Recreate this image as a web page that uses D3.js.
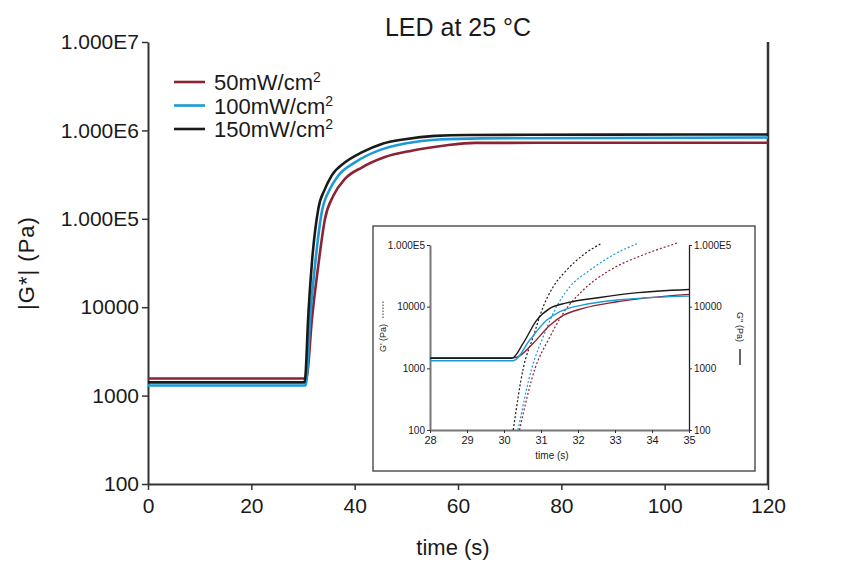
<!DOCTYPE html>
<html>
<head>
<meta charset="utf-8">
<script src="https://cdn.jsdelivr.net/npm/d3@7"></script>
<style>
  body { margin: 0; background: #fff; }
  svg { font-family: "Liberation Sans", Arial, sans-serif; }
</style>
</head>
<body>
<svg id="chart" width="860" height="578"></svg>
<script>
// ---- data ----
const seriesNames = ["50mW/cm", "100mW/cm", "150mW/cm"];
const seriesColors = ["#8c2334", "#1b9ad6", "#1a1a1a"];

// main chart |G*| vs time
const mainT50 = [0, 30.6, 30.85, 31.7, 32.96, 34.26, 35.87, 38.13, 41.36, 45.87, 51.04, 57.48, 63.3, 90, 120];
const mainG50 = [1560, 1560, 1800, 7000, 29500, 100000, 182000, 283000, 380000, 500000, 590000, 675000, 722000, 725000, 725000];
const mainT100 = [0, 30.5, 30.75, 31.35, 32.32, 33.62, 35.23, 36.83, 40.06, 44.57, 49.74, 56.19, 64.6, 90, 120];
const mainG100 = [1300, 1300, 1600, 7000, 29500, 118000, 218000, 308000, 435000, 590000, 710000, 790000, 812000, 822000, 830000];
const mainT150 = [0, 30.3, 30.5, 30.97, 31.68, 32.96, 34.26, 35.55, 38.13, 41.36, 45.23, 49.74, 55.55, 61.9, 90, 120];
const mainG150 = [1410, 1410, 1750, 7000, 29500, 129000, 218000, 308000, 435000, 563000, 703000, 796000, 868000, 888000, 895000, 900000];

// inset G'' (solid)
const inT50s = [28, 30.3, 30.79, 31.24, 31.6, 32.14, 33.05, 35];
const inG50s = [1490, 1490, 2560, 5000, 7200, 9400, 12000, 15800];
const inT100s = [28, 30.25, 30.7, 31.15, 31.51, 32.14, 33.05, 35];
const inG100s = [1330, 1330, 2900, 6000, 8300, 10700, 12800, 14800];
const inT150s = [28, 30.21, 30.52, 30.88, 31.24, 31.69, 32.59, 33.49, 35];
const inG150s = [1450, 1450, 2560, 6000, 9400, 11500, 14100, 16600, 19000];

// inset G' (dotted)
const inT50d = [30.42, 30.84, 31.2, 31.6, 32.14, 32.86, 33.76, 34.67];
const inG50d = [100, 1000, 2900, 7800, 18600, 39000, 69000, 107000];
const inT100d = [30.38, 30.75, 31.06, 31.42, 31.78, 32.32, 32.95, 33.63];
const inG100d = [100, 1000, 3250, 10000, 21000, 39000, 69000, 107000];
const inT150d = [30.25, 30.52, 30.79, 31.06, 31.33, 31.69, 32.14, 32.64];
const inG150d = [100, 1000, 3250, 10000, 21000, 39000, 69000, 107000];

const mainXTicks = [0, 20, 40, 60, 80, 100, 120];
const mainYTicks = [100, 1000, 10000, 1e5, 1e6, 1e7];
const mainYLabels = ["100", "1000", "10000", "1.000E5", "1.000E6", "1.000E7"];
const inXTicks = [28, 29, 30, 31, 32, 33, 34, 35];
const inYTicks = [100, 1000, 10000, 1e5];
const inYLabels = ["100", "1000", "10000", "1.000E5"];

const zip = (t, g) => t.map((v, i) => ({ t: v, g: g[i] }));
const mainSeries = [zip(mainT50, mainG50), zip(mainT100, mainG100), zip(mainT150, mainG150)];
const inSolid = [zip(inT50s, inG50s), zip(inT100s, inG100s), zip(inT150s, inG150s)];
const inDotted = [zip(inT50d, inG50d), zip(inT100d, inG100d), zip(inT150d, inG150d)];

const svg = d3.select("#chart");

// ---- main chart ----
const x = d3.scaleLinear().domain([0, 120]).range([148, 768]);
const y = d3.scaleLog().domain([100, 1e7]).range([484, 42]);

svg.append("text").attr("x", 458).attr("y", 36).attr("text-anchor", "middle")
  .attr("font-size", 25).attr("fill", "#1a1a1a").text("LED at 25 °C");

const gx = svg.append("g").attr("transform", "translate(0,484)")
  .call(d3.axisBottom(x).tickValues(mainXTicks).tickSize(6).tickSizeOuter(0).tickPadding(8));
const gy = svg.append("g").attr("transform", "translate(148,0)")
  .call(d3.axisLeft(y).tickValues(mainYTicks).tickFormat((d, i) => mainYLabels[i])
    .tickSize(6).tickSizeOuter(0).tickPadding(3));
[gx, gy].forEach(g => {
  g.select(".domain").attr("stroke", "#333").attr("stroke-width", 2);
  g.selectAll(".tick line").attr("stroke", "#333").attr("stroke-width", 1.5);
  g.selectAll(".tick text").attr("font-size", 21).attr("fill", "#1a1a1a")
    .attr("font-family", "Liberation Sans, Arial, sans-serif");
});
// right frame line
svg.append("line").attr("x1", x(120)).attr("x2", x(120)).attr("y1", y(1e7)).attr("y2", y(100))
  .attr("stroke", "#333").attr("stroke-width", 2.5);

svg.append("text").attr("x", 453).attr("y", 555).attr("text-anchor", "middle")
  .attr("font-size", 22).attr("fill", "#1a1a1a").text("time (s)");
svg.append("text").attr("transform", "translate(34,263) rotate(-90)").attr("text-anchor", "middle")
  .attr("font-size", 22).attr("fill", "#1a1a1a").attr("letter-spacing", 1).text("|G*| (Pa)");

const line = d3.line().x(d => x(d.t)).y(d => y(d.g)).curve(d3.curveMonotoneX);
mainSeries.forEach((s, i) => {
  svg.append("path").attr("d", line(s)).attr("fill", "none")
    .attr("stroke", seriesColors[i]).attr("stroke-width", 2.6);
});

// legend
const legend = svg.append("g");
seriesNames.forEach((name, i) => {
  const ly = 82 + i * 23.5;
  legend.append("line").attr("x1", 174).attr("x2", 205).attr("y1", ly).attr("y2", ly)
    .attr("stroke", seriesColors[i]).attr("stroke-width", 2.6);
  const t = legend.append("text").attr("x", 214).attr("y", ly + 8)
    .attr("font-size", 22).attr("fill", "#1a1a1a");
  t.append("tspan").text(name);
  t.append("tspan").attr("font-size", 14).attr("dy", -8).text("2");
});

// ---- inset ----
svg.append("rect").attr("x", 373).attr("y", 226).attr("width", 382).attr("height", 245)
  .attr("fill", "#fff").attr("stroke", "#555").attr("stroke-width", 1.5);

const ix = d3.scaleLinear().domain([28, 35]).range([430, 689]);
const iy = d3.scaleLog().domain([100, 1e5]).range([430, 245]);

const igx = svg.append("g").attr("transform", "translate(0,430)")
  .call(d3.axisBottom(ix).tickValues(inXTicks).tickFormat(d3.format("d"))
    .tickSize(3).tickSizeOuter(0).tickPadding(3));
const igy = svg.append("g").attr("transform", "translate(430,0)")
  .call(d3.axisLeft(iy).tickValues(inYTicks).tickFormat((d, i) => inYLabels[i])
    .tickSize(3).tickSizeOuter(0).tickPadding(2));
const igy2 = svg.append("g").attr("transform", "translate(689,0)")
  .call(d3.axisRight(iy).tickValues(inYTicks).tickFormat((d, i) => inYLabels[i])
    .tickSize(3).tickSizeOuter(0).tickPadding(2));
[igx, igy, igy2].forEach(g => {
  g.selectAll(".tick line").attr("stroke", "#333");
  g.selectAll(".tick text").attr("font-size", 10).attr("fill", "#1a1a1a")
    .attr("font-family", "Liberation Sans, Arial, sans-serif");
});
igx.select(".domain").attr("stroke", "#777").attr("stroke-width", 2);
igy.select(".domain").attr("stroke", "#777").attr("stroke-width", 2);
igy2.select(".domain").attr("stroke", "#222").attr("stroke-width", 1.3);
igx.selectAll(".tick text").attr("font-size", 11);

svg.append("text").attr("x", 552).attr("y", 459).attr("text-anchor", "middle")
  .attr("font-size", 10).attr("fill", "#1a1a1a").text("time (s)");

// inset axis titles with line-style keys
const lt = svg.append("g").attr("transform", "translate(386,338) rotate(-90)");
lt.append("text").attr("x", 0).attr("y", 0).attr("text-anchor", "middle")
  .attr("font-size", 9).attr("fill", "#1a1a1a").text("G' (Pa)");
lt.append("line").attr("x1", 20).attr("x2", 38).attr("y1", -3).attr("y2", -3)
  .attr("stroke", "#333").attr("stroke-width", 1).attr("stroke-dasharray", "1.5,1.5");
const rt = svg.append("g").attr("transform", "translate(737,327) rotate(90)");
rt.append("text").attr("x", 0).attr("y", 0).attr("text-anchor", "middle")
  .attr("font-size", 9).attr("fill", "#1a1a1a").text("G'' (Pa)");
rt.append("line").attr("x1", 22).attr("x2", 38).attr("y1", -3).attr("y2", -3)
  .attr("stroke", "#333").attr("stroke-width", 1.5);

const iline = d3.line().x(d => ix(d.t)).y(d => iy(d.g)).curve(d3.curveMonotoneX);
inDotted.forEach((s, i) => {
  svg.append("path").attr("d", iline(s)).attr("fill", "none")
    .attr("stroke", seriesColors[i]).attr("stroke-width", 1.2).attr("stroke-dasharray", "2,2");
});
inSolid.forEach((s, i) => {
  svg.append("path").attr("d", iline(s)).attr("fill", "none")
    .attr("stroke", seriesColors[i]).attr("stroke-width", 1.4);
});
</script>
</body>
</html>
